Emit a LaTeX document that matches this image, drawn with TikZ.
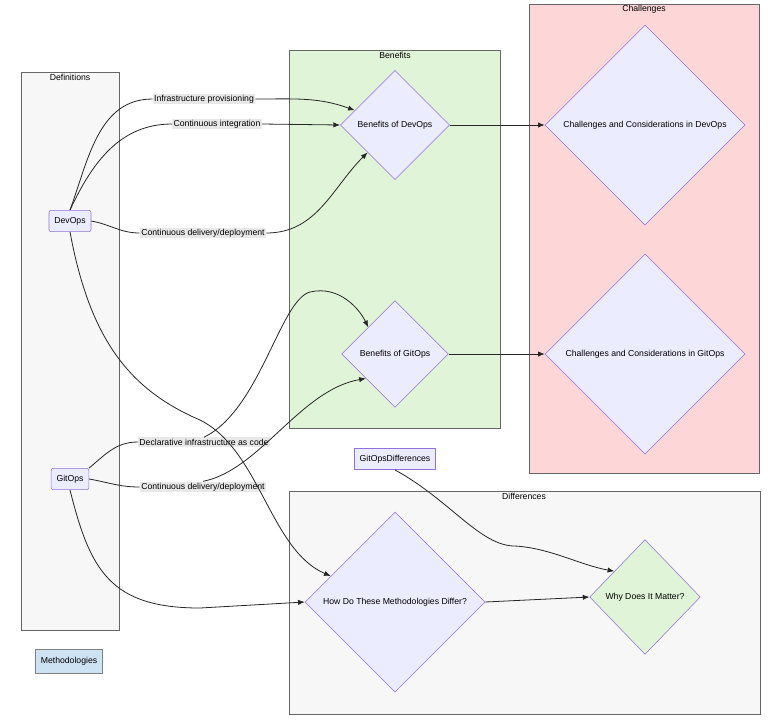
\documentclass[tikz,border=0pt]{standalone}
\usepackage{fontspec}
\setmainfont{Liberation Sans}
\usetikzlibrary{shapes.geometric,arrows.meta}
\definecolor{nodefill}{HTML}{ECECFF}
\definecolor{nodeline}{HTML}{9370DB}
\definecolor{clgrey}{HTML}{F7F7F7}
\definecolor{clgreen}{HTML}{E0F4D8}
\definecolor{clred}{HTML}{FDD7D7}
\definecolor{clblue}{HTML}{CDE2F3}
\definecolor{lblfill}{HTML}{E8E8E8}
\tikzset{
  every node/.style={font=\fontsize{6.5}{8}\selectfont},
  cluster/.style={draw=black!60, line width=0.5pt},
  box/.style={draw=nodeline, fill=nodefill, rounded corners=1.5pt, minimum height=16pt, inner xsep=4pt},
  decision/.style={diamond, draw=nodeline, fill=nodefill, inner sep=0pt},
  lbl/.style={fill=lblfill, inner sep=1pt},
  link/.style={draw=black!85, line width=0.6pt},
  arr/.style={link, -{Latex[length=5pt,width=4pt]}},
}
\begin{document}
\begin{tikzpicture}[x=0.75pt, y=-0.75pt]
\useasboundingbox (0,0) rectangle (781,719);

% clusters
\filldraw[cluster, fill=clgrey]  (21,72)   rectangle (119,630);
\filldraw[cluster, fill=clgreen] (289,50)  rectangle (500,428);
\filldraw[cluster, fill=clred]   (529,4)   rectangle (759,473);
\filldraw[cluster, fill=clgrey]  (289,491) rectangle (760,714);
\node at (70,77)  {Definitions};
\node at (395,55) {Benefits};
\node at (644,9)  {Challenges};
\node at (524,496) {Differences};

% nodes
\node[box] (devops) at (70,221) {DevOps};
\node[box] (gitops) at (70,479) {GitOps};
\node[box, fill=clblue, draw=black!50, rounded corners=0pt, minimum height=18pt] (meth) at (69,661) {Methodologies};
\node[box, rounded corners=0pt] (gitdiff) at (395,459) {GitOpsDifferences};

\node[decision, minimum width=82pt, minimum height=82pt] (bdev) at (395,125) {Benefits of DevOps};
\node[decision, minimum width=80pt, minimum height=80pt] (bgit) at (395,354) {Benefits of GitOps};
\node[decision, minimum width=150pt, minimum height=150pt] (cdev) at (645,125) {Challenges and Considerations in DevOps};
\node[decision, minimum width=150pt, minimum height=150pt] (cgit) at (645,354) {Challenges and Considerations in GitOps};
\node[decision, minimum width=135pt, minimum height=135pt] (how) at (395,602) {How Do These Methodologies Differ?};
\node[decision, fill=clgreen, minimum width=83pt, minimum height=86pt] (why) at (645,597) {Why Does It Matter?};

% edge labels
\node[lbl] (infra) at (204,99)  {Infrastructure provisioning};
\node[lbl] (ci)    at (217,124) {Continuous integration};
\node[lbl] (cdd)   at (203,233) {Continuous delivery/deployment};
\node[lbl] (decl)  at (204,442) {Declarative infrastructure as code};
\node[lbl] (cdg)   at (203,487) {Continuous delivery/deployment};

% links
\draw[link] (devops.north) to[out=70, in=180] (infra.west);
\draw[arr]  (infra.east) to[out=0, in=160] (bdev.160);
\draw[link] (devops.north) to[out=65, in=180] (ci.west);
\draw[arr]  (ci.east) -- (bdev.west);
\draw[link] (devops.east) to[out=-10, in=180] (cdd.west);
\draw[arr]  (cdd.east) to[out=0, in=-135] (bdev.-135);
\draw[arr]  (devops.south) .. controls (90,340) and (130,390) .. (200,420)
  .. controls (260,450) and (270,550) .. (how.158);
\draw[link] (gitops.north east) to[out=40, in=180] (decl.west);
\draw[arr]  (decl.north) .. controls (260,410) and (280,300) .. (310,292)
  .. controls (340,285) and (360,310) .. (bgit.135);
\draw[link] (gitops.east) to[out=-10, in=180] (cdg.west);
\draw[arr]  (cdg.north) .. controls (260,470) and (300,390) .. (bgit.-140);
\draw[arr]  (gitops.south) .. controls (90,570) and (110,608) .. (200,608) -- (how.west);
\draw[arr]  (bdev.east) -- (cdev.west);
\draw[arr]  (bgit.east) -- (cgit.west);
\draw[arr]  (how.east) -- (why.west);
\draw[arr]  (gitdiff.south) .. controls (450,500) and (480,546) .. (515,546)
  .. controls (550,548) and (580,565) .. (why.140);
\end{tikzpicture}
\end{document}
